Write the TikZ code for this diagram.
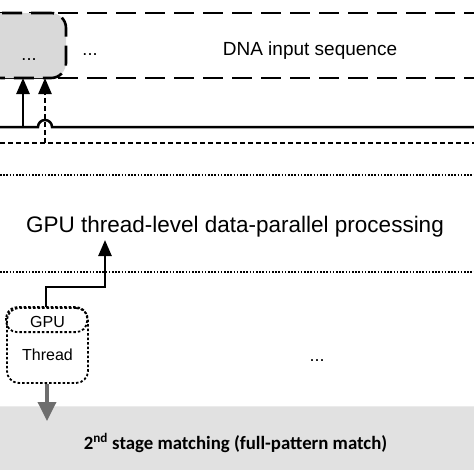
\documentclass[tikz,border=0pt]{standalone}
\usepackage{fontspec}
\setmainfont{Liberation Sans}
\newfontfamily\calfont{Carlito}
\usetikzlibrary{arrows.meta}
\definecolor{boxgray}{HTML}{D9D9D9}
\definecolor{bandgray}{HTML}{E1E1E1}
\definecolor{arrgray}{HTML}{6E6E6E}
\tikzset{
  longdash/.style={line width=2.6pt, dash pattern=on 20pt off 9pt},
  finedash/.style={line width=2.4pt, dash pattern=on 5pt off 3pt},
  finedot/.style={line width=1.3pt, dash pattern=on 1.6pt off 1.6pt},
  boxdot/.style={line width=1.8pt, dash pattern=on 2.5pt off 2pt},
  solidline/.style={line width=2.5pt},
  tip/.style={-{Triangle[length=16pt,width=13pt]}},
  txt/.style={inner sep=0pt, anchor=base},
}
\begin{document}
\begin{tikzpicture}[x=1pt,y=-1pt]
\useasboundingbox (0,0) rectangle (474,474);
% lines
\coordinate (tl) at (0,13); \coordinate (tr) at (474,13);
\coordinate (bl) at (0,78); \coordinate (br) at (474,78);
\draw[longdash] (tl) -- (tr);
\draw[longdash] (bl) -- (br);
% input box
\node[draw, longdash, fill=boxgray, rounded corners=15pt, minimum width=80pt, minimum height=65pt, inner sep=0pt] (inbox) at (26,45.5) {};
\node[txt, font=\fontsize{18}{20}\selectfont] (d1) at (29,60) {...};
\node[txt, font=\fontsize{18}{20}\selectfont] (d2) at (90,55) {...};
\node[txt, font=\fontsize{19}{22}\selectfont] (dna) at (310,55) {DNA input sequence};
% solid and dashed buses
\coordinate (sl) at (0,127); \coordinate (sr) at (474,127);
\coordinate (dl) at (0,143); \coordinate (dr) at (474,143);
\draw[solidline] (sl) -- (38,127) arc (180:360:7) -- (sr);
\draw[finedash] (dl) -- (dr);
\coordinate (s1) at (23,127);
\coordinate (s2) at (45,143);
\draw[solidline, tip] (s1) -- (23,78);
\draw[finedash, tip] (s2) -- (45,78);
% dotted lines
\coordinate (o1l) at (0,175); \coordinate (o1r) at (474,175);
\coordinate (o2l) at (0,272); \coordinate (o2r) at (474,272);
\draw[finedot] (o1l) -- (o1r);
\draw[finedot] (o2l) -- (o2r);
\node[txt, font=\fontsize{22.5}{26}\selectfont] (gputxt) at (235,232) {GPU thread-level data-parallel processing};
% GPU thread box
\node[draw, boxdot, rounded corners=12pt, minimum width=81pt, minimum height=75pt, inner sep=0pt] (gpu) at (47.5,345.5) {};
\draw[boxdot, rounded corners=11pt] (gpu.north west) rectangle ++(81,25);
\node[txt, font=\fontsize{16}{18}\selectfont] (gl) at (47.5,327) {GPU};
\node[txt, font=\fontsize{16}{18}\selectfont] (tl2) at (47.5,360) {Thread};
\node[txt, font=\fontsize{18}{20}\selectfont] (d3) at (317,361) {...};
\coordinate (tgt) at (105,240);
\draw[solidline, tip] (gpu.north -| 46,0) -- (46,287) -- (105,287) -- (tgt);
% band
\node[fill=bandgray, minimum width=474pt, minimum height=63pt, inner sep=0pt] (band) at (237,438.5) {};
\draw[line width=1pt, white!92!black] (band.north west) -- (band.north east);
\node[txt, font=\calfont\bfseries\fontsize{18.8}{22}\selectfont] (bt) at (235.5,449) {2\textsuperscript{nd} stage matching (full-pattern match)};
\draw[arrgray, line width=3.5pt, -{Triangle[length=19pt,width=18pt]}] (gpu.south -| 47,0) -- (47,421);
\end{tikzpicture}
\end{document}
